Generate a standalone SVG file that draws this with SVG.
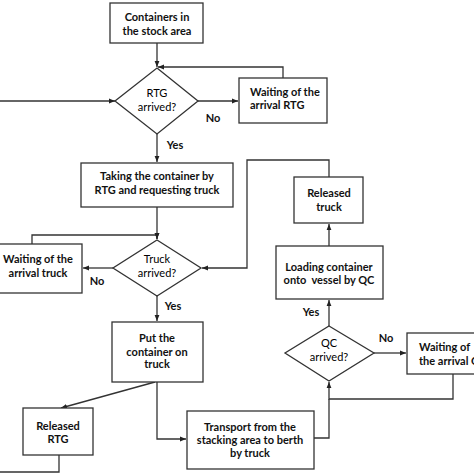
<svg xmlns="http://www.w3.org/2000/svg" width="474" height="474" viewBox="0 0 474 474">
<defs>
<marker id="ah" viewBox="0 0 10 10" refX="10" refY="5" markerWidth="6" markerHeight="6" orient="auto" markerUnits="userSpaceOnUse">
<path d="M0,1 L10,5 L0,9 z" fill="#222"/>
</marker>
</defs>
<style>
.box{fill:#fff;stroke:#333;stroke-width:1.3}
.t{font-family:Lato,"Liberation Sans",sans-serif;font-size:11px;font-weight:bold;fill:#111;text-anchor:middle}
.tl{text-anchor:start}
.d{font-weight:normal;fill:#000}
.c{fill:none;stroke:#333;stroke-width:1.3}
.a{marker-end:url(#ah)}
</style>
<rect width="474" height="474" fill="#fff"/>
<g id="connectors">
<path class="c a" d="M157,43 V67"/>
<path class="c a" d="M283,78 V67 H158"/>
<path class="c a" d="M0,101 H115"/>
<path class="c a" d="M198,101 H238"/>
<path class="c a" d="M157,134 V162"/>
<path class="c a" d="M157,207 V239"/>
<path class="c a" d="M32,244 V235 H157 V239"/>
<path class="c a" d="M113,268 H83"/>
<path class="c a" d="M329,177 V160 H247 V268 H202"/>
<path class="c a" d="M329,246 V224"/>
<path class="c a" d="M329,326 V300"/>
<path class="c a" d="M374,353 H406"/>
<path class="c a" d="M453,374 V399 H329 V382"/>
<path class="c" d="M314,438 H329 V399"/>
<path class="c a" d="M157,296 V321"/>
<path class="c a" d="M155,382 L61,408"/>
<path class="c a" d="M157,382 V439 H186"/>
<path class="c" d="M59,455 V472 H0"/>
</g>
<g id="labels">
<text class="t" x="213" y="122">No</text>
<text class="t" x="175" y="149">Yes</text>
<text class="t" x="97" y="285">No</text>
<text class="t" x="173" y="310">Yes</text>
<text class="t" x="311" y="316">Yes</text>
<text class="t" x="386" y="342">No</text>
</g>
<g id="n1"><rect class="box" x="110" y="3" width="93" height="40"/>
<text class="t" x="157" y="21">Containers in</text><text class="t" x="157" y="35">the stock area</text></g>
<g id="n2"><polygon class="box" points="157,68 198,101 157,134 115,101"/>
<text class="t d" x="157" y="97">RTG</text><text class="t d" x="157" y="111">arrived?</text></g>
<g id="n3"><rect class="box" x="239" y="78" width="88" height="45"/>
<text class="t tl" x="250" y="96">Waiting of the</text><text class="t tl" x="250" y="109">arrival RTG</text></g>
<g id="n4"><rect class="box" x="81" y="163" width="152" height="44"/>
<text class="t" x="157" y="180">Taking the container by</text><text class="t" x="157" y="194">RTG and requesting truck</text></g>
<g id="n5"><polygon class="box" points="157,240 201,268 157,296 113,268"/>
<text class="t d" x="157" y="263">Truck</text><text class="t d" x="157" y="277">arrived?</text></g>
<g id="n6"><rect class="box" x="-2" y="244" width="84" height="49"/>
<text class="t" x="38" y="263">Waiting of the</text><text class="t" x="38" y="277">arrival truck</text></g>
<g id="n7"><rect class="box" x="294" y="177" width="69" height="46"/>
<text class="t" x="329" y="197">Released</text><text class="t" x="329" y="211">truck</text></g>
<g id="n8"><rect class="box" x="276" y="246" width="107" height="53"/>
<text class="t" x="329" y="271">Loading container</text><text class="t" x="329" y="284" xml:space="preserve">onto  vessel by QC</text></g>
<g id="n9"><polygon class="box" points="329,326 374,353 329,381 285,353"/>
<text class="t d" x="329" y="347">QC</text><text class="t d" x="329" y="361">arrived?</text></g>
<g id="n10"><rect class="box" x="407" y="333" width="75" height="41"/>
<text class="t tl" x="419" y="351">Waiting of</text><text class="t tl" x="419" y="365">the arrival QC</text></g>
<g id="n11"><rect class="box" x="112" y="322" width="91" height="60"/>
<text class="t" x="157" y="342">Put the</text><text class="t" x="157" y="356">container on</text><text class="t" x="157" y="368">truck</text></g>
<g id="n12"><rect class="box" x="23" y="408" width="70" height="47"/>
<text class="t" x="58" y="430">Released</text><text class="t" x="58" y="443">RTG</text></g>
<g id="n13"><rect class="box" x="187" y="411" width="127" height="58"/>
<text class="t" x="250" y="431">Transport from the</text><text class="t" x="250" y="444">stacking area to berth</text><text class="t" x="250" y="457">by truck</text></g>
</svg>
